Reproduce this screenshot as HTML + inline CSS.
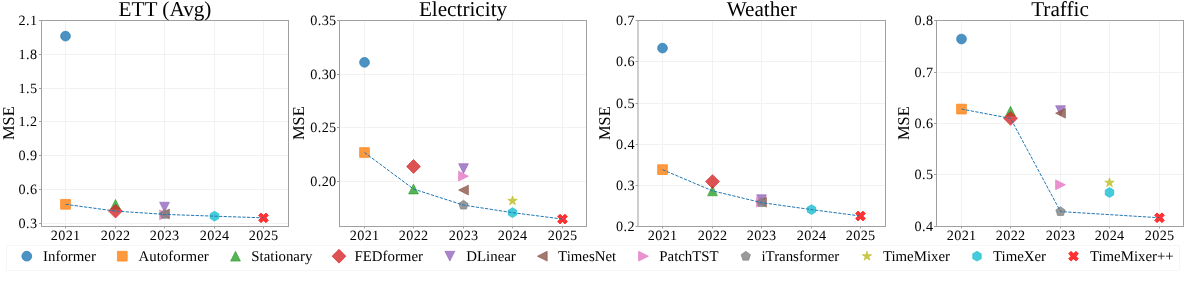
<!DOCTYPE html>
<html><head><meta charset="utf-8"><style>
html,body{margin:0;padding:0;background:#fff;width:1186px;height:287px;overflow:hidden}
svg{display:block;will-change:transform;text-rendering:geometricPrecision;font-variant-ligatures:none;font-family:"Liberation Serif",serif}
text{fill:#000}
</style></head><body>
<svg width="1186" height="287" viewBox="0 0 1186 287">
<rect width="1186" height="287" fill="#fff"/>
<line x1="65.5" y1="20.5" x2="65.5" y2="226.5" stroke="#f2f2f2" stroke-width="1"/>
<line x1="115.5" y1="20.5" x2="115.5" y2="226.5" stroke="#f2f2f2" stroke-width="1"/>
<line x1="164.5" y1="20.5" x2="164.5" y2="226.5" stroke="#f2f2f2" stroke-width="1"/>
<line x1="214.5" y1="20.5" x2="214.5" y2="226.5" stroke="#f2f2f2" stroke-width="1"/>
<line x1="263.5" y1="20.5" x2="263.5" y2="226.5" stroke="#f2f2f2" stroke-width="1"/>
<line x1="41.5" y1="223.5" x2="288.5" y2="223.5" stroke="#f2f2f2" stroke-width="1"/>
<line x1="41.5" y1="189.5" x2="288.5" y2="189.5" stroke="#f2f2f2" stroke-width="1"/>
<line x1="41.5" y1="155.5" x2="288.5" y2="155.5" stroke="#f2f2f2" stroke-width="1"/>
<line x1="41.5" y1="121.5" x2="288.5" y2="121.5" stroke="#f2f2f2" stroke-width="1"/>
<line x1="41.5" y1="88.5" x2="288.5" y2="88.5" stroke="#f2f2f2" stroke-width="1"/>
<line x1="41.5" y1="54.5" x2="288.5" y2="54.5" stroke="#f2f2f2" stroke-width="1"/>
<line x1="41.5" y1="20.5" x2="288.5" y2="20.5" stroke="#f2f2f2" stroke-width="1"/>
<circle cx="65.50" cy="36.12" r="4.90" fill="#1f77b4" fill-opacity="0.8" stroke="#1f77b4" stroke-opacity="0.8" stroke-width="0.8"/>
<path d="M60.60,199.43 L70.40,199.43 L70.40,209.23 L60.60,209.23Z" fill="#ff7f0e" fill-opacity="0.8" stroke="#ff7f0e" stroke-opacity="0.8" stroke-width="0.8" stroke-linejoin="miter"/>
<path d="M115.50,199.43 L120.40,209.23 L110.60,209.23Z" fill="#2ca02c" fill-opacity="0.8" stroke="#2ca02c" stroke-opacity="0.8" stroke-width="0.8" stroke-linejoin="miter"/>
<path d="M115.50,204.16 L122.43,211.09 L115.50,218.02 L108.57,211.09Z" fill="#d62728" fill-opacity="0.8" stroke="#d62728" stroke-opacity="0.8" stroke-width="0.8" stroke-linejoin="miter"/>
<path d="M164.50,212.05 L169.40,202.25 L159.60,202.25Z" fill="#9467bd" fill-opacity="0.8" stroke="#9467bd" stroke-opacity="0.8" stroke-width="0.8" stroke-linejoin="miter"/>
<path d="M159.60,213.91 L169.40,209.01 L169.40,218.81Z" fill="#8c564b" fill-opacity="0.8" stroke="#8c564b" stroke-opacity="0.8" stroke-width="0.8" stroke-linejoin="miter"/>
<path d="M169.40,214.82 L159.60,209.92 L159.60,219.72Z" fill="#e377c2" fill-opacity="0.8" stroke="#e377c2" stroke-opacity="0.8" stroke-width="0.8" stroke-linejoin="miter"/>
<path d="M164.50,209.47 L159.84,212.85 L161.62,218.33 L167.38,218.33 L169.16,212.85Z" fill="#7f7f7f" fill-opacity="0.8" stroke="#7f7f7f" stroke-opacity="0.8" stroke-width="0.8" stroke-linejoin="miter"/>
<path d="M214.50,211.27 L210.26,213.72 L210.26,218.62 L214.50,221.07 L218.74,218.62 L218.74,213.72Z" fill="#17becf" fill-opacity="0.8" stroke="#17becf" stroke-opacity="0.8" stroke-width="0.8" stroke-linejoin="miter"/>
<path d="M261.05,212.96 L263.50,215.41 L265.95,212.96 L268.40,215.41 L265.95,217.86 L268.40,220.31 L265.95,222.76 L263.50,220.31 L261.05,222.76 L258.60,220.31 L261.05,217.86 L258.60,215.41Z" fill="#ff0000" fill-opacity="0.8" stroke="#ff0000" stroke-opacity="0.8" stroke-width="0.8" stroke-linejoin="miter"/>
<path d="M65.50,204.33 L115.50,211.09 L164.50,214.37 L214.50,216.17 L263.50,217.86" fill="none" stroke="#1f77b4" stroke-width="1" stroke-dasharray="3.26 1.41"/>
<rect x="41.5" y="20.5" width="247.0" height="206.0" fill="none" stroke="#a0a0a0" stroke-width="1"/>
<line x1="65.5" y1="226.5" x2="65.5" y2="228.5" stroke="#a0a0a0" stroke-width="1"/>
<text x="65.67" y="240" font-size="14.2" letter-spacing="0.35" text-anchor="middle">2021</text>
<line x1="115.5" y1="226.5" x2="115.5" y2="228.5" stroke="#a0a0a0" stroke-width="1"/>
<text x="115.67" y="240" font-size="14.2" letter-spacing="0.35" text-anchor="middle">2022</text>
<line x1="164.5" y1="226.5" x2="164.5" y2="228.5" stroke="#a0a0a0" stroke-width="1"/>
<text x="164.68" y="240" font-size="14.2" letter-spacing="0.35" text-anchor="middle">2023</text>
<line x1="214.5" y1="226.5" x2="214.5" y2="228.5" stroke="#a0a0a0" stroke-width="1"/>
<text x="214.68" y="240" font-size="14.2" letter-spacing="0.35" text-anchor="middle">2024</text>
<line x1="263.5" y1="226.5" x2="263.5" y2="228.5" stroke="#a0a0a0" stroke-width="1"/>
<text x="263.68" y="240" font-size="14.2" letter-spacing="0.35" text-anchor="middle">2025</text>
<line x1="39.0" y1="223.5" x2="41.5" y2="223.5" stroke="#a0a0a0" stroke-width="1"/>
<text x="37.35" y="228.40" font-size="14.2" letter-spacing="0.35" text-anchor="end">0.3</text>
<line x1="39.0" y1="189.5" x2="41.5" y2="189.5" stroke="#a0a0a0" stroke-width="1"/>
<text x="37.35" y="194.40" font-size="14.2" letter-spacing="0.35" text-anchor="end">0.6</text>
<line x1="39.0" y1="155.5" x2="41.5" y2="155.5" stroke="#a0a0a0" stroke-width="1"/>
<text x="37.35" y="160.40" font-size="14.2" letter-spacing="0.35" text-anchor="end">0.9</text>
<line x1="39.0" y1="121.5" x2="41.5" y2="121.5" stroke="#a0a0a0" stroke-width="1"/>
<text x="37.35" y="126.40" font-size="14.2" letter-spacing="0.35" text-anchor="end">1.2</text>
<line x1="39.0" y1="88.5" x2="41.5" y2="88.5" stroke="#a0a0a0" stroke-width="1"/>
<text x="37.35" y="93.40" font-size="14.2" letter-spacing="0.35" text-anchor="end">1.5</text>
<line x1="39.0" y1="54.5" x2="41.5" y2="54.5" stroke="#a0a0a0" stroke-width="1"/>
<text x="37.35" y="59.40" font-size="14.2" letter-spacing="0.35" text-anchor="end">1.8</text>
<line x1="39.0" y1="20.5" x2="41.5" y2="20.5" stroke="#a0a0a0" stroke-width="1"/>
<text x="37.35" y="25.40" font-size="14.2" letter-spacing="0.35" text-anchor="end">2.1</text>
<text x="165.00" y="16.2" font-size="21.2" text-anchor="middle">ETT (Avg)</text>
<text transform="translate(13.90,123.20) rotate(-90)" x="0" y="0" font-size="16.4" text-anchor="middle">MSE</text>
<line x1="364.5" y1="20.5" x2="364.5" y2="226.5" stroke="#f2f2f2" stroke-width="1"/>
<line x1="413.5" y1="20.5" x2="413.5" y2="226.5" stroke="#f2f2f2" stroke-width="1"/>
<line x1="463.5" y1="20.5" x2="463.5" y2="226.5" stroke="#f2f2f2" stroke-width="1"/>
<line x1="512.5" y1="20.5" x2="512.5" y2="226.5" stroke="#f2f2f2" stroke-width="1"/>
<line x1="562.5" y1="20.5" x2="562.5" y2="226.5" stroke="#f2f2f2" stroke-width="1"/>
<line x1="339.5" y1="181.5" x2="586.5" y2="181.5" stroke="#f2f2f2" stroke-width="1"/>
<line x1="339.5" y1="127.5" x2="586.5" y2="127.5" stroke="#f2f2f2" stroke-width="1"/>
<line x1="339.5" y1="74.5" x2="586.5" y2="74.5" stroke="#f2f2f2" stroke-width="1"/>
<line x1="339.5" y1="20.5" x2="586.5" y2="20.5" stroke="#f2f2f2" stroke-width="1"/>
<circle cx="364.50" cy="62.36" r="4.90" fill="#1f77b4" fill-opacity="0.8" stroke="#1f77b4" stroke-opacity="0.8" stroke-width="0.8"/>
<path d="M359.60,147.62 L369.40,147.62 L369.40,157.42 L359.60,157.42Z" fill="#ff7f0e" fill-opacity="0.8" stroke="#ff7f0e" stroke-opacity="0.8" stroke-width="0.8" stroke-linejoin="miter"/>
<path d="M413.50,184.11 L418.40,193.91 L408.60,193.91Z" fill="#2ca02c" fill-opacity="0.8" stroke="#2ca02c" stroke-opacity="0.8" stroke-width="0.8" stroke-linejoin="miter"/>
<path d="M413.50,159.54 L420.43,166.47 L413.50,173.40 L406.57,166.47Z" fill="#d62728" fill-opacity="0.8" stroke="#d62728" stroke-opacity="0.8" stroke-width="0.8" stroke-linejoin="miter"/>
<path d="M463.50,173.52 L468.40,163.72 L458.60,163.72Z" fill="#9467bd" fill-opacity="0.8" stroke="#9467bd" stroke-opacity="0.8" stroke-width="0.8" stroke-linejoin="miter"/>
<path d="M458.60,190.09 L468.40,185.19 L468.40,194.99Z" fill="#8c564b" fill-opacity="0.8" stroke="#8c564b" stroke-opacity="0.8" stroke-width="0.8" stroke-linejoin="miter"/>
<path d="M468.40,176.13 L458.60,171.23 L458.60,181.03Z" fill="#e377c2" fill-opacity="0.8" stroke="#e377c2" stroke-opacity="0.8" stroke-width="0.8" stroke-linejoin="miter"/>
<path d="M463.50,200.21 L458.84,203.60 L460.62,209.08 L466.38,209.08 L468.16,203.60Z" fill="#7f7f7f" fill-opacity="0.8" stroke="#7f7f7f" stroke-opacity="0.8" stroke-width="0.8" stroke-linejoin="miter"/>
<path d="M512.50,195.92 L511.40,199.31 L507.84,199.31 L510.72,201.40 L509.62,204.78 L512.50,202.69 L515.38,204.78 L514.28,201.40 L517.16,199.31 L513.60,199.31Z" fill="#bcbd22" fill-opacity="0.8" stroke="#bcbd22" stroke-opacity="0.8" stroke-width="0.8" stroke-linejoin="miter"/>
<path d="M512.50,207.73 L508.26,210.18 L508.26,215.08 L512.50,217.53 L516.74,215.08 L516.74,210.18Z" fill="#17becf" fill-opacity="0.8" stroke="#17becf" stroke-opacity="0.8" stroke-width="0.8" stroke-linejoin="miter"/>
<path d="M560.05,214.17 L562.50,216.62 L564.95,214.17 L567.40,216.62 L564.95,219.07 L567.40,221.52 L564.95,223.97 L562.50,221.52 L560.05,223.97 L557.60,221.52 L560.05,219.07 L557.60,216.62Z" fill="#ff0000" fill-opacity="0.8" stroke="#ff0000" stroke-opacity="0.8" stroke-width="0.8" stroke-linejoin="miter"/>
<path d="M364.50,152.52 L413.50,189.01 L463.50,205.11 L512.50,212.63 L562.50,219.07" fill="none" stroke="#1f77b4" stroke-width="1" stroke-dasharray="3.26 1.41"/>
<rect x="339.5" y="20.5" width="247.0" height="206.0" fill="none" stroke="#a0a0a0" stroke-width="1"/>
<line x1="364.5" y1="226.5" x2="364.5" y2="228.5" stroke="#a0a0a0" stroke-width="1"/>
<text x="364.68" y="240" font-size="14.2" letter-spacing="0.35" text-anchor="middle">2021</text>
<line x1="413.5" y1="226.5" x2="413.5" y2="228.5" stroke="#a0a0a0" stroke-width="1"/>
<text x="413.68" y="240" font-size="14.2" letter-spacing="0.35" text-anchor="middle">2022</text>
<line x1="463.5" y1="226.5" x2="463.5" y2="228.5" stroke="#a0a0a0" stroke-width="1"/>
<text x="463.68" y="240" font-size="14.2" letter-spacing="0.35" text-anchor="middle">2023</text>
<line x1="512.5" y1="226.5" x2="512.5" y2="228.5" stroke="#a0a0a0" stroke-width="1"/>
<text x="512.67" y="240" font-size="14.2" letter-spacing="0.35" text-anchor="middle">2024</text>
<line x1="562.5" y1="226.5" x2="562.5" y2="228.5" stroke="#a0a0a0" stroke-width="1"/>
<text x="562.67" y="240" font-size="14.2" letter-spacing="0.35" text-anchor="middle">2025</text>
<line x1="337.0" y1="181.5" x2="339.5" y2="181.5" stroke="#a0a0a0" stroke-width="1"/>
<text x="336.55" y="186.40" font-size="14.2" letter-spacing="0.35" text-anchor="end">0.20</text>
<line x1="337.0" y1="127.5" x2="339.5" y2="127.5" stroke="#a0a0a0" stroke-width="1"/>
<text x="336.55" y="132.40" font-size="14.2" letter-spacing="0.35" text-anchor="end">0.25</text>
<line x1="337.0" y1="74.5" x2="339.5" y2="74.5" stroke="#a0a0a0" stroke-width="1"/>
<text x="336.55" y="79.40" font-size="14.2" letter-spacing="0.35" text-anchor="end">0.30</text>
<line x1="337.0" y1="20.5" x2="339.5" y2="20.5" stroke="#a0a0a0" stroke-width="1"/>
<text x="336.55" y="25.40" font-size="14.2" letter-spacing="0.35" text-anchor="end">0.35</text>
<text x="463.00" y="16.2" font-size="21.2" text-anchor="middle">Electricity</text>
<text transform="translate(303.80,123.20) rotate(-90)" x="0" y="0" font-size="16.4" text-anchor="middle">MSE</text>
<line x1="662.5" y1="20.5" x2="662.5" y2="226.5" stroke="#f2f2f2" stroke-width="1"/>
<line x1="712.5" y1="20.5" x2="712.5" y2="226.5" stroke="#f2f2f2" stroke-width="1"/>
<line x1="761.5" y1="20.5" x2="761.5" y2="226.5" stroke="#f2f2f2" stroke-width="1"/>
<line x1="811.5" y1="20.5" x2="811.5" y2="226.5" stroke="#f2f2f2" stroke-width="1"/>
<line x1="860.5" y1="20.5" x2="860.5" y2="226.5" stroke="#f2f2f2" stroke-width="1"/>
<line x1="638.0" y1="226.5" x2="885.5" y2="226.5" stroke="#f2f2f2" stroke-width="1"/>
<line x1="638.0" y1="185.5" x2="885.5" y2="185.5" stroke="#f2f2f2" stroke-width="1"/>
<line x1="638.0" y1="144.5" x2="885.5" y2="144.5" stroke="#f2f2f2" stroke-width="1"/>
<line x1="638.0" y1="103.5" x2="885.5" y2="103.5" stroke="#f2f2f2" stroke-width="1"/>
<line x1="638.0" y1="61.5" x2="885.5" y2="61.5" stroke="#f2f2f2" stroke-width="1"/>
<line x1="638.0" y1="20.5" x2="885.5" y2="20.5" stroke="#f2f2f2" stroke-width="1"/>
<circle cx="662.50" cy="48.10" r="4.90" fill="#1f77b4" fill-opacity="0.8" stroke="#1f77b4" stroke-opacity="0.8" stroke-width="0.8"/>
<path d="M657.60,164.74 L667.40,164.74 L667.40,174.54 L657.60,174.54Z" fill="#ff7f0e" fill-opacity="0.8" stroke="#ff7f0e" stroke-opacity="0.8" stroke-width="0.8" stroke-linejoin="miter"/>
<path d="M712.50,185.96 L717.40,195.76 L707.60,195.76Z" fill="#2ca02c" fill-opacity="0.8" stroke="#2ca02c" stroke-opacity="0.8" stroke-width="0.8" stroke-linejoin="miter"/>
<path d="M712.50,174.66 L719.43,181.59 L712.50,188.52 L705.57,181.59Z" fill="#d62728" fill-opacity="0.8" stroke="#d62728" stroke-opacity="0.8" stroke-width="0.8" stroke-linejoin="miter"/>
<path d="M761.50,204.62 L766.40,194.82 L756.60,194.82Z" fill="#9467bd" fill-opacity="0.8" stroke="#9467bd" stroke-opacity="0.8" stroke-width="0.8" stroke-linejoin="miter"/>
<path d="M756.60,202.19 L766.40,197.29 L766.40,207.09Z" fill="#8c564b" fill-opacity="0.8" stroke="#8c564b" stroke-opacity="0.8" stroke-width="0.8" stroke-linejoin="miter"/>
<path d="M766.40,202.19 L756.60,197.29 L756.60,207.09Z" fill="#e377c2" fill-opacity="0.8" stroke="#e377c2" stroke-opacity="0.8" stroke-width="0.8" stroke-linejoin="miter"/>
<path d="M761.50,197.70 L756.84,201.09 L758.62,206.57 L764.38,206.57 L766.16,201.09Z" fill="#7f7f7f" fill-opacity="0.8" stroke="#7f7f7f" stroke-opacity="0.8" stroke-width="0.8" stroke-linejoin="miter"/>
<path d="M811.50,204.71 L807.26,207.16 L807.26,212.06 L811.50,214.51 L815.74,212.06 L815.74,207.16Z" fill="#17becf" fill-opacity="0.8" stroke="#17becf" stroke-opacity="0.8" stroke-width="0.8" stroke-linejoin="miter"/>
<path d="M858.05,211.09 L860.50,213.54 L862.95,211.09 L865.40,213.54 L862.95,215.99 L865.40,218.44 L862.95,220.89 L860.50,218.44 L858.05,220.89 L855.60,218.44 L858.05,215.99 L855.60,213.54Z" fill="#ff0000" fill-opacity="0.8" stroke="#ff0000" stroke-opacity="0.8" stroke-width="0.8" stroke-linejoin="miter"/>
<path d="M662.50,169.64 L712.50,190.86 L761.50,202.60 L811.50,209.61 L860.50,215.99" fill="none" stroke="#1f77b4" stroke-width="1" stroke-dasharray="3.26 1.41"/>
<rect x="638.0" y="20.5" width="247.5" height="206.0" fill="none" stroke="#a0a0a0" stroke-width="1"/>
<line x1="662.5" y1="226.5" x2="662.5" y2="228.5" stroke="#a0a0a0" stroke-width="1"/>
<text x="662.67" y="240" font-size="14.2" letter-spacing="0.35" text-anchor="middle">2021</text>
<line x1="712.5" y1="226.5" x2="712.5" y2="228.5" stroke="#a0a0a0" stroke-width="1"/>
<text x="712.67" y="240" font-size="14.2" letter-spacing="0.35" text-anchor="middle">2022</text>
<line x1="761.5" y1="226.5" x2="761.5" y2="228.5" stroke="#a0a0a0" stroke-width="1"/>
<text x="761.67" y="240" font-size="14.2" letter-spacing="0.35" text-anchor="middle">2023</text>
<line x1="811.5" y1="226.5" x2="811.5" y2="228.5" stroke="#a0a0a0" stroke-width="1"/>
<text x="811.67" y="240" font-size="14.2" letter-spacing="0.35" text-anchor="middle">2024</text>
<line x1="860.5" y1="226.5" x2="860.5" y2="228.5" stroke="#a0a0a0" stroke-width="1"/>
<text x="860.67" y="240" font-size="14.2" letter-spacing="0.35" text-anchor="middle">2025</text>
<line x1="635.5" y1="226.5" x2="638.0" y2="226.5" stroke="#a0a0a0" stroke-width="1"/>
<text x="634.85" y="231.40" font-size="14.2" letter-spacing="0.35" text-anchor="end">0.2</text>
<line x1="635.5" y1="185.5" x2="638.0" y2="185.5" stroke="#a0a0a0" stroke-width="1"/>
<text x="634.85" y="190.40" font-size="14.2" letter-spacing="0.35" text-anchor="end">0.3</text>
<line x1="635.5" y1="144.5" x2="638.0" y2="144.5" stroke="#a0a0a0" stroke-width="1"/>
<text x="634.85" y="149.40" font-size="14.2" letter-spacing="0.35" text-anchor="end">0.4</text>
<line x1="635.5" y1="103.5" x2="638.0" y2="103.5" stroke="#a0a0a0" stroke-width="1"/>
<text x="634.85" y="108.40" font-size="14.2" letter-spacing="0.35" text-anchor="end">0.5</text>
<line x1="635.5" y1="61.5" x2="638.0" y2="61.5" stroke="#a0a0a0" stroke-width="1"/>
<text x="634.85" y="66.40" font-size="14.2" letter-spacing="0.35" text-anchor="end">0.6</text>
<line x1="635.5" y1="20.5" x2="638.0" y2="20.5" stroke="#a0a0a0" stroke-width="1"/>
<text x="634.85" y="25.40" font-size="14.2" letter-spacing="0.35" text-anchor="end">0.7</text>
<text x="761.75" y="16.2" font-size="21.2" text-anchor="middle">Weather</text>
<text transform="translate(610.40,123.20) rotate(-90)" x="0" y="0" font-size="16.4" text-anchor="middle">MSE</text>
<line x1="961.5" y1="20.5" x2="961.5" y2="226.5" stroke="#f2f2f2" stroke-width="1"/>
<line x1="1010.5" y1="20.5" x2="1010.5" y2="226.5" stroke="#f2f2f2" stroke-width="1"/>
<line x1="1060.5" y1="20.5" x2="1060.5" y2="226.5" stroke="#f2f2f2" stroke-width="1"/>
<line x1="1109.5" y1="20.5" x2="1109.5" y2="226.5" stroke="#f2f2f2" stroke-width="1"/>
<line x1="1159.5" y1="20.5" x2="1159.5" y2="226.5" stroke="#f2f2f2" stroke-width="1"/>
<line x1="936.5" y1="226.5" x2="1183.5" y2="226.5" stroke="#f2f2f2" stroke-width="1"/>
<line x1="936.5" y1="174.5" x2="1183.5" y2="174.5" stroke="#f2f2f2" stroke-width="1"/>
<line x1="936.5" y1="123.5" x2="1183.5" y2="123.5" stroke="#f2f2f2" stroke-width="1"/>
<line x1="936.5" y1="72.5" x2="1183.5" y2="72.5" stroke="#f2f2f2" stroke-width="1"/>
<line x1="936.5" y1="20.5" x2="1183.5" y2="20.5" stroke="#f2f2f2" stroke-width="1"/>
<circle cx="961.50" cy="39.04" r="4.90" fill="#1f77b4" fill-opacity="0.8" stroke="#1f77b4" stroke-opacity="0.8" stroke-width="0.8"/>
<path d="M956.60,104.18 L966.40,104.18 L966.40,113.98 L956.60,113.98Z" fill="#ff7f0e" fill-opacity="0.8" stroke="#ff7f0e" stroke-opacity="0.8" stroke-width="0.8" stroke-linejoin="miter"/>
<path d="M1010.50,106.24 L1015.40,116.04 L1005.60,116.04Z" fill="#2ca02c" fill-opacity="0.8" stroke="#2ca02c" stroke-opacity="0.8" stroke-width="0.8" stroke-linejoin="miter"/>
<path d="M1010.50,111.42 L1017.43,118.35 L1010.50,125.28 L1003.57,118.35Z" fill="#d62728" fill-opacity="0.8" stroke="#d62728" stroke-opacity="0.8" stroke-width="0.8" stroke-linejoin="miter"/>
<path d="M1060.50,115.53 L1065.40,105.73 L1055.60,105.73Z" fill="#9467bd" fill-opacity="0.8" stroke="#9467bd" stroke-opacity="0.8" stroke-width="0.8" stroke-linejoin="miter"/>
<path d="M1055.60,113.20 L1065.40,108.30 L1065.40,118.10Z" fill="#8c564b" fill-opacity="0.8" stroke="#8c564b" stroke-opacity="0.8" stroke-width="0.8" stroke-linejoin="miter"/>
<path d="M1065.40,184.79 L1055.60,179.89 L1055.60,189.69Z" fill="#e377c2" fill-opacity="0.8" stroke="#e377c2" stroke-opacity="0.8" stroke-width="0.8" stroke-linejoin="miter"/>
<path d="M1060.50,206.67 L1055.84,210.05 L1057.62,215.53 L1063.38,215.53 L1065.16,210.05Z" fill="#7f7f7f" fill-opacity="0.8" stroke="#7f7f7f" stroke-opacity="0.8" stroke-width="0.8" stroke-linejoin="miter"/>
<path d="M1109.50,177.83 L1108.40,181.21 L1104.84,181.21 L1107.72,183.30 L1106.62,186.69 L1109.50,184.60 L1112.38,186.69 L1111.28,183.30 L1114.16,181.21 L1110.60,181.21Z" fill="#bcbd22" fill-opacity="0.8" stroke="#bcbd22" stroke-opacity="0.8" stroke-width="0.8" stroke-linejoin="miter"/>
<path d="M1109.50,187.61 L1105.26,190.06 L1105.26,194.96 L1109.50,197.41 L1113.74,194.96 L1113.74,190.06Z" fill="#17becf" fill-opacity="0.8" stroke="#17becf" stroke-opacity="0.8" stroke-width="0.8" stroke-linejoin="miter"/>
<path d="M1157.05,212.85 L1159.50,215.30 L1161.95,212.85 L1164.40,215.30 L1161.95,217.75 L1164.40,220.20 L1161.95,222.65 L1159.50,220.20 L1157.05,222.65 L1154.60,220.20 L1157.05,217.75 L1154.60,215.30Z" fill="#ff0000" fill-opacity="0.8" stroke="#ff0000" stroke-opacity="0.8" stroke-width="0.8" stroke-linejoin="miter"/>
<path d="M961.50,109.08 L1010.50,118.35 L1060.50,211.57 L1159.50,217.75" fill="none" stroke="#1f77b4" stroke-width="1" stroke-dasharray="3.26 1.41"/>
<rect x="936.5" y="20.5" width="247.0" height="206.0" fill="none" stroke="#a0a0a0" stroke-width="1"/>
<line x1="961.5" y1="226.5" x2="961.5" y2="228.5" stroke="#a0a0a0" stroke-width="1"/>
<text x="961.67" y="240" font-size="14.2" letter-spacing="0.35" text-anchor="middle">2021</text>
<line x1="1010.5" y1="226.5" x2="1010.5" y2="228.5" stroke="#a0a0a0" stroke-width="1"/>
<text x="1010.67" y="240" font-size="14.2" letter-spacing="0.35" text-anchor="middle">2022</text>
<line x1="1060.5" y1="226.5" x2="1060.5" y2="228.5" stroke="#a0a0a0" stroke-width="1"/>
<text x="1060.67" y="240" font-size="14.2" letter-spacing="0.35" text-anchor="middle">2023</text>
<line x1="1109.5" y1="226.5" x2="1109.5" y2="228.5" stroke="#a0a0a0" stroke-width="1"/>
<text x="1109.67" y="240" font-size="14.2" letter-spacing="0.35" text-anchor="middle">2024</text>
<line x1="1159.5" y1="226.5" x2="1159.5" y2="228.5" stroke="#a0a0a0" stroke-width="1"/>
<text x="1159.67" y="240" font-size="14.2" letter-spacing="0.35" text-anchor="middle">2025</text>
<line x1="934.0" y1="226.5" x2="936.5" y2="226.5" stroke="#a0a0a0" stroke-width="1"/>
<text x="933.35" y="231.40" font-size="14.2" letter-spacing="0.35" text-anchor="end">0.4</text>
<line x1="934.0" y1="174.5" x2="936.5" y2="174.5" stroke="#a0a0a0" stroke-width="1"/>
<text x="933.35" y="179.40" font-size="14.2" letter-spacing="0.35" text-anchor="end">0.5</text>
<line x1="934.0" y1="123.5" x2="936.5" y2="123.5" stroke="#a0a0a0" stroke-width="1"/>
<text x="933.35" y="128.40" font-size="14.2" letter-spacing="0.35" text-anchor="end">0.6</text>
<line x1="934.0" y1="72.5" x2="936.5" y2="72.5" stroke="#a0a0a0" stroke-width="1"/>
<text x="933.35" y="77.40" font-size="14.2" letter-spacing="0.35" text-anchor="end">0.7</text>
<line x1="934.0" y1="20.5" x2="936.5" y2="20.5" stroke="#a0a0a0" stroke-width="1"/>
<text x="933.35" y="25.40" font-size="14.2" letter-spacing="0.35" text-anchor="end">0.8</text>
<text x="1060.00" y="16.2" font-size="21.2" text-anchor="middle">Traffic</text>
<text transform="translate(908.90,123.20) rotate(-90)" x="0" y="0" font-size="16.4" text-anchor="middle">MSE</text>
<rect x="6.5" y="245.5" width="1173" height="25" rx="1.5" fill="#fff" stroke="#f6f6f6" stroke-width="1"/>
<circle cx="26.80" cy="256.20" r="4.90" fill="#1f77b4" fill-opacity="0.8" stroke="#1f77b4" stroke-opacity="0.8" stroke-width="0.8"/>
<text x="43.10" y="261.3" font-size="14.85">Informer</text>
<path d="M117.40,251.30 L127.20,251.30 L127.20,261.10 L117.40,261.10Z" fill="#ff7f0e" fill-opacity="0.8" stroke="#ff7f0e" stroke-opacity="0.8" stroke-width="0.8" stroke-linejoin="miter"/>
<text x="138.60" y="261.3" font-size="14.85">Autoformer</text>
<path d="M235.50,251.30 L240.40,261.10 L230.60,261.10Z" fill="#2ca02c" fill-opacity="0.8" stroke="#2ca02c" stroke-opacity="0.8" stroke-width="0.8" stroke-linejoin="miter"/>
<text x="251.30" y="261.3" font-size="14.85">Stationary</text>
<path d="M339.00,249.27 L345.93,256.20 L339.00,263.13 L332.07,256.20Z" fill="#d62728" fill-opacity="0.8" stroke="#d62728" stroke-opacity="0.8" stroke-width="0.8" stroke-linejoin="miter"/>
<text x="354.50" y="261.3" font-size="14.85">FEDformer</text>
<path d="M449.85,261.10 L454.75,251.30 L444.95,251.30Z" fill="#9467bd" fill-opacity="0.8" stroke="#9467bd" stroke-opacity="0.8" stroke-width="0.8" stroke-linejoin="miter"/>
<text x="466.30" y="261.3" font-size="14.85">DLinear</text>
<path d="M537.40,256.20 L547.20,251.30 L547.20,261.10Z" fill="#8c564b" fill-opacity="0.8" stroke="#8c564b" stroke-opacity="0.8" stroke-width="0.8" stroke-linejoin="miter"/>
<text x="558.10" y="261.3" font-size="14.85">TimesNet</text>
<path d="M648.40,256.20 L638.60,251.30 L638.60,261.10Z" fill="#e377c2" fill-opacity="0.8" stroke="#e377c2" stroke-opacity="0.8" stroke-width="0.8" stroke-linejoin="miter"/>
<text x="659.30" y="261.3" font-size="14.85">PatchTST</text>
<path d="M745.80,251.30 L741.14,254.69 L742.92,260.16 L748.68,260.16 L750.46,254.69Z" fill="#7f7f7f" fill-opacity="0.8" stroke="#7f7f7f" stroke-opacity="0.8" stroke-width="0.8" stroke-linejoin="miter"/>
<text x="761.50" y="261.3" font-size="14.85">iTransformer</text>
<path d="M867.00,251.30 L865.90,254.69 L862.34,254.69 L865.22,256.78 L864.12,260.16 L867.00,258.07 L869.88,260.16 L868.78,256.78 L871.66,254.69 L868.10,254.69Z" fill="#bcbd22" fill-opacity="0.8" stroke="#bcbd22" stroke-opacity="0.8" stroke-width="0.8" stroke-linejoin="miter"/>
<text x="882.90" y="261.3" font-size="14.85">TimeMixer</text>
<path d="M977.00,251.30 L972.76,253.75 L972.76,258.65 L977.00,261.10 L981.24,258.65 L981.24,253.75Z" fill="#17becf" fill-opacity="0.8" stroke="#17becf" stroke-opacity="0.8" stroke-width="0.8" stroke-linejoin="miter"/>
<text x="993.00" y="261.3" font-size="14.85">TimeXer</text>
<path d="M1071.05,251.30 L1073.50,253.75 L1075.95,251.30 L1078.40,253.75 L1075.95,256.20 L1078.40,258.65 L1075.95,261.10 L1073.50,258.65 L1071.05,261.10 L1068.60,258.65 L1071.05,256.20 L1068.60,253.75Z" fill="#ff0000" fill-opacity="0.8" stroke="#ff0000" stroke-opacity="0.8" stroke-width="0.8" stroke-linejoin="miter"/>
<text x="1089.90" y="261.3" font-size="14.85">TimeMixer++</text>
</svg>
</body></html>
